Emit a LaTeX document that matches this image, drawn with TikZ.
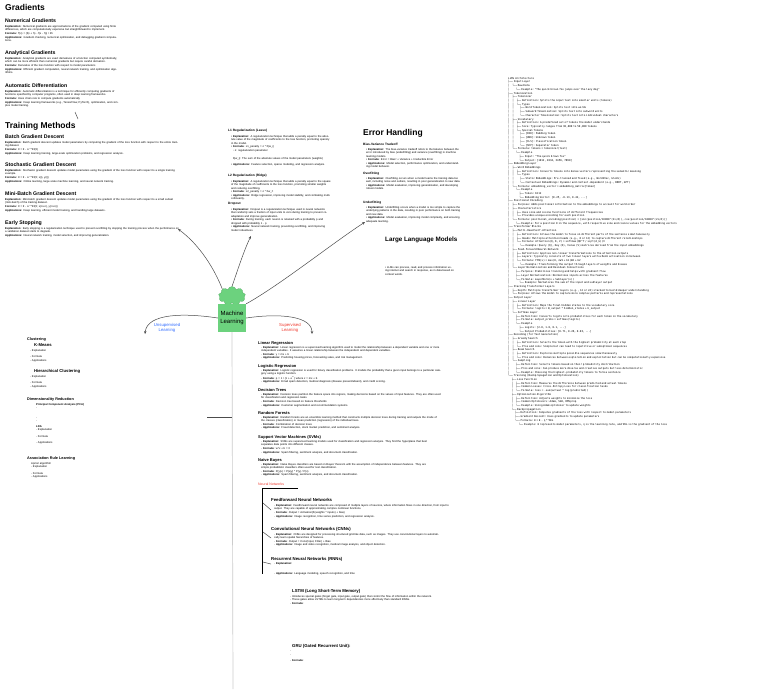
\documentclass[tikz,border=0pt]{standalone}
\usepackage{fontspec}
\setmainfont{Liberation Sans}
\newfontfamily\treefont{DejaVu Sans Mono}
\newfontfamily\symf{DejaVu Sans}
\usetikzlibrary{arrows.meta,shapes.symbols}
\definecolor{mlgreen}{HTML}{6CD27E}
\definecolor{sublue}{HTML}{2F6BFF}
\definecolor{supred}{HTML}{F03A2E}
\tikzset{
 big/.style={anchor=north west,inner sep=0,font=\fontsize{8.5}{10}\selectfont\bfseries},
 sub/.style={anchor=north west,inner sep=0,font=\fontsize{5.2}{6}\selectfont\bfseries},
 small/.style={anchor=north west,inner sep=0,font=\fontsize{3.2}{4}\selectfont\bfseries},
 body/.style={anchor=north west,inner sep=0,align=left,text width=#1,font=\fontsize{2.7}{3.5}\selectfont},
 body/.default=115pt,
 conn/.style={draw=black!70,line width=0.5pt,-{Stealth[length=3pt,width=2.5pt]}},
 plain/.style={draw=black!70,line width=0.5pt},
}
\newcommand\bl[1]{\textbf{#1}}
\newcommand\nab{{\symf ∇}}
\begin{document}
\begin{tikzpicture}[x=1pt,y=-1pt]
\fill[white] (0,0) rectangle (768,689);
\useasboundingbox (0,0) rectangle (768,689);

\node[big] (grad) at (5,4) {Gradients};
\node[sub] (numg) at (5,19) {Numerical Gradients};
\node[body] (numgb) at (5,25) {\bl{Explanation:} Numerical gradients are approximations of the gradient computed using finite differences, which are computationally expensive but straightforward to implement.\\[0.6pt]\bl{Formula:} f'(x) ≈ (f(x + h) - f(x - h)) / 2h\\\bl{Applications:} Gradient checking, numerical optimization, and debugging gradient computations.};
\node[sub] (anag) at (5,51) {Analytical Gradients};
\node[body] (anagb) at (5,57) {\bl{Explanation:} Analytical gradients are exact derivatives of a function computed symbolically, which can be more efficient than numerical gradients but require careful derivation.\\[0.6pt]\bl{Formula:} Derivative of the loss function with respect to model parameters\\\bl{Applications:} Efficient gradient computation, neural network training, and optimization algorithms.};
\node[sub] (autod) at (5,84) {Automatic Differentiation};
\node[body] (autodb) at (5,90) {\bl{Explanation:} Automatic differentiation is a technique for efficiently computing gradients of functions specified by computer programs, often used in deep learning frameworks.\\[0.6pt]\bl{Formula:} Uses chain rule to compute gradients automatically\\\bl{Applications:} Deep learning frameworks (e.g., TensorFlow, PyTorch), optimization, and complex model training.};
\coordinate (g1) at (75,112);
\coordinate (g2) at (78,119);
\draw[plain] (g1) -- (g2);

\node[big] (train) at (5,122) {Training Methods};
\node[sub] (bgd) at (5,135) {Batch Gradient Descent};
\node[body=175pt] (bgdb) at (5,141) {\bl{Explanation:} Batch gradient descent updates model parameters by computing the gradient of the loss function with respect to the entire training dataset.\\\bl{Formula:} θ = θ - α * \nab J(θ)\\[0.6pt]\bl{Applications:} Deep learning training, large-scale optimization problems, and regression analysis.};
\node[sub] (sgd) at (5,163) {Stochastic Gradient Descent};
\node[body=175pt] (sgdb) at (5,169) {\bl{Explanation:} Stochastic gradient descent updates model parameters using the gradient of the loss function with respect to a single training example.\\\bl{Formula:} θ = θ - α * \nab J(θ; x(i), y(i))\\[0.6pt]\bl{Applications:} Online learning, large-scale machine learning, and neural network training.};
\node[sub] (mbgd) at (5,192) {Mini-Batch Gradient Descent};
\node[body=175pt] (mbgdb) at (5,198) {\bl{Explanation:} Mini-batch gradient descent updates model parameters using the gradient of the loss function with respect to a small subset (mini-batch) of the training dataset.\\\bl{Formula:} θ = θ - α * \nab J(θ; x(i:i+n), y(i:i+n))\\[0.6pt]\bl{Applications:} Deep learning, efficient model training, and handling large datasets.};
\node[sub] (es) at (5,221) {Early Stopping};
\node[body=175pt] (esb) at (5,227) {\bl{Explanation:} Early stopping is a regularization technique used to prevent overfitting by stopping the training process when the performance on a validation dataset starts to degrade.\\[0.6pt]\bl{Applications:} Neural network training, model selection, and improving generalization.};

\node[small] (l1) at (228,129) {L1 Regularization (Lasso)};
\node[body=100pt] (l1b) at (231,135) {• \bl{Explanation:} A regularization technique that adds a penalty equal to the absolute value of the magnitude of coefficients to the loss function, promoting sparsity in the model.\\• \bl{Formula:} L1\_penalty = λ * Σ|w\_i|\\~~◦ λ: regularization parameter\\[5pt]~~Σ|w\_i|: The sum of the absolute values of the model parameters (weights)\\[2pt]• \bl{Applications:} Feature selection, sparse modeling, and regression analysis.};
\node[small] (l2) at (228,174) {L2 Regularization (Ridge)};
\node[body=100pt] (l2b) at (231,180) {• \bl{Explanation:} A regularization technique that adds a penalty equal to the square of the magnitude of coefficients to the loss function, promoting smaller weights and reducing overfitting.\\• \bl{Formula:} L2\_penalty = λ * Σw\_i²\\• \bl{Applications:} Ridge regression, improving model stability, and combating multicollinearity.};
\node[small] (drop) at (228,202) {Dropout};
\node[body=100pt] (dropb) at (231,208) {• \bl{Explanation:} Dropout is a regularization technique used in neural networks that randomly sets a fraction of input units to zero during training to prevent co-adaptation and improve generalization.\\• \bl{Formula:} During training, each neuron is retained with a probability p and dropped with probability 1 - p\\• \bl{Applications:} Neural network training, preventing overfitting, and improving model robustness.};

\node[big] (err) at (363,129) {Error Handling};
\node[small] (bv) at (363,143) {Bias-Variance Tradeoff};
\node[body=95pt] (bvb) at (366,148) {• \bl{Explanation:} The bias-variance tradeoff refers to the balance between the error introduced by bias (underfitting) and variance (overfitting) in machine learning models.\\• \bl{Formula:} Error = Bias² + Variance + Irreducible Error\\• \bl{Applications:} Model selection, performance optimization, and understanding model behavior.};
\node[small] (ovf) at (363,172) {Overfitting};
\node[body=95pt] (ovfb) at (366,177) {• \bl{Explanation:} Overfitting occurs when a model learns the training data too well, including noise and outliers, resulting in poor generalization to new data.\\• \bl{Applications:} Model evaluation, improving generalization, and developing robust models.};
\node[small] (unf) at (363,201) {Underfitting};
\node[body=95pt] (unfb) at (366,206) {• \bl{Explanation:} Underfitting occurs when a model is too simple to capture the underlying patterns in the data, resulting in poor performance on both training and new data.\\• \bl{Applications:} Model evaluation, improving model complexity, and ensuring adequate learning.};

\node[anchor=north west,inner sep=0,font=\fontsize{6.3}{7}\selectfont\bfseries] (llm) at (385,237) {Large Language Models};
\node[body=70pt] (llmb) at (385,266) {• LLMs can process, read, and process information using internet and search in response, as in data based on context words.};

\node[anchor=north west,inner sep=0,align=left,text width=258pt,font=\treefont\fontsize{2.6}{3.72}\selectfont] (tree) at (508,77) {%
LLMs Architecture\\
├──~Input~Layer\\
│~~~└──~Raw~Data\\
│~~~~~~~└──~Example:~"The~quick~brown~fox~jumps~over~the~lazy~dog"\\
├──~Tokenization\\
│~~~├──~Tokenizer\\
│~~~│~~~├──~Definition:~Splits~the~input~text~into~smaller~units~(tokens)\\
│~~~│~~~└──~Types\\
│~~~│~~~~~~~├──~Word~Tokenization:~Splits~text~into~words\\
│~~~│~~~~~~~├──~Subword~Tokenization:~Splits~text~into~subword~units\\
│~~~│~~~~~~~└──~Character~Tokenization:~Splits~text~into~individual~characters\\
│~~~├──~Vocabulary\\
│~~~│~~~├──~Definition:~A~predefined~set~of~tokens~the~model~understands\\
│~~~│~~~├──~Size:~Typically~ranges~from~30,000~to~50,000~tokens\\
│~~~│~~~└──~Special~Tokens\\
│~~~│~~~~~~~├──~[PAD]:~Padding~token\\
│~~~│~~~~~~~├──~[UNK]:~Unknown~token\\
│~~~│~~~~~~~├──~[CLS]:~Classification~token\\
│~~~│~~~~~~~└──~[SEP]:~Separator~token\\
│~~~└──~Formula:~tokens~=~tokenizer(text)\\
│~~~~~~~└──~Example\\
│~~~~~~~~~~~├──~Input:~"The~quick~brown~fox"\\
│~~~~~~~~~~~└──~Output:~[1012,~2034,~3456,~7890]\\
├──~Embedding~Layer\\
│~~~├──~Word~Embeddings\\
│~~~│~~~├──~Definition:~Converts~tokens~into~dense~vectors~representing~the~semantic~meaning\\
│~~~│~~~└──~Types\\
│~~~│~~~~~~~├──~Static~Embeddings:~Pre-trained~and~fixed~(e.g.,~Word2Vec,~GloVe)\\
│~~~│~~~~~~~└──~Contextual~Embeddings:~Dynamic~and~context-dependent~(e.g.,~BERT,~GPT)\\
│~~~└──~Formula:~embedding\_vector~=~embedding\_matrix[token]\\
│~~~~~~~└──~Example\\
│~~~~~~~~~~~├──~Token:~1012\\
│~~~~~~~~~~~└──~Embedding~Vector:~[0.25,~-0.13,~0.42,~...]\\
├──~Positional~Encoding\\
│~~~├──~Purpose:~Adds~positional~information~to~the~embeddings~to~account~for~word~order\\
│~~~├──~Characteristics\\
│~~~│~~~├──~Uses~sine~and~cosine~functions~of~different~frequencies\\
│~~~│~~~└──~Provides~unique~encoding~for~each~position\\
│~~~└──~Formula:~positional\_encoding(position)~=~[sin(position/10000\^{}(2i/d)),~cos(position/10000\^{}(2i/d))]\\
│~~~~~~~└──~Example:~For~a~position~0~in~the~sequence,~with~respective~sine~and~cosine~values~for~the~embedding~vectors\\
├──~Transformer~Blocks\\
│~~~├──~Multi-Head~Self-Attention\\
│~~~│~~~├──~Definition:~Allows~the~model~to~focus~on~different~parts~of~the~sentence~simultaneously\\
│~~~│~~~├──~Heads:~Multiple~attention~heads~(e.g.,~8~or~12)~to~capture~different~relationships\\
│~~~│~~~└──~Formula:~Attention(Q,~K,~V)~=~softmax(QK\^{}T~/~sqrt(d\_k))V\\
│~~~│~~~~~~~└──~Example:~Query~(Q),~Key~(K),~Value~(V)~matrices~derived~from~the~input~embeddings\\
│~~~├──~Feed-Forward~Neural~Network\\
│~~~│~~~├──~Definition:~Applies~non-linear~transformations~to~the~attention~outputs\\
│~~~│~~~├──~Layers:~Typically~consists~of~two~linear~layers~with~a~ReLU~activation~in~between\\
│~~~│~~~└──~Formula:~FFN(x)~=~max(0,~xW1~+~b1)W2~+~b2\\
│~~~│~~~~~~~└──~Example:~Transforming~the~output~through~layers~of~weights~and~biases\\
│~~~└──~Layer~Normalization~and~Residual~Connections\\
│~~~~~~~├──~Purpose:~Stabilizes~training~and~helps~with~gradient~flow\\
│~~~~~~~├──~Layer~Normalization:~Normalizes~inputs~across~the~features\\
│~~~~~~~└──~Formula:~LayerNorm(x~+~Sublayer(x))\\
│~~~~~~~~~~~└──~Example:~Normalizes~the~sum~of~the~input~and~sublayer~output\\
├──~Stacking~Transformer~Layers\\
│~~~├──~Depth:~Multiple~transformer~layers~(e.g.,~12~or~24)~stacked~to~build~deeper~understanding\\
│~~~└──~Purpose:~Allows~the~model~to~capture~more~complex~patterns~and~representations\\
├──~Output~Layer\\
│~~~├──~Linear~Layer\\
│~~~│~~~├──~Definition:~Maps~the~final~hidden~states~to~the~vocabulary~size\\
│~~~│~~~└──~Formula:~logits~=~W\_output~*~hidden\_states~+~b\_output\\
│~~~└──~Softmax~Layer\\
│~~~~~~~├──~Definition:~Converts~logits~into~probabilities~for~each~token~in~the~vocabulary\\
│~~~~~~~├──~Formula:~output\_probs~=~softmax(logits)\\
│~~~~~~~└──~Example\\
│~~~~~~~~~~~├──~Logits:~[2.0,~1.0,~0.1,~...]\\
│~~~~~~~~~~~└──~Output~Probabilities:~[0.71,~0.26,~0.03,~...]\\
├──~Decoding~(for~Text~Generation)\\
│~~~├──~Greedy~Search\\
│~~~│~~~├──~Definition:~Selects~the~token~with~the~highest~probability~at~each~step\\
│~~~│~~~└──~Pros~and~cons:~Simple~but~can~lead~to~repetitive~or~suboptimal~sequences\\
│~~~├──~Beam~Search\\
│~~~│~~~├──~Definition:~Explores~multiple~possible~sequences~simultaneously\\
│~~~│~~~└──~Pros~and~cons:~Balances~between~exploration~and~exploitation~but~can~be~computationally~expensive\\
│~~~└──~Sampling\\
│~~~~~~~├──~Definition:~Selects~tokens~based~on~their~probability~distribution\\
│~~~~~~~├──~Pros~and~cons:~Can~produce~more~diverse~and~creative~outputs~but~less~deterministic\\
│~~~~~~~└──~Example:~Choosing~the~highest-probability~tokens~to~form~a~sentence\\
└──~Training~(Backpropagation~and~Optimization)\\
~~~~├──~Loss~Function\\
~~~~│~~~├──~Definition:~Measures~the~difference~between~predicted~and~actual~tokens\\
~~~~│~~~├──~Common~Losses:~Cross-Entropy~Loss~for~classification~tasks\\
~~~~│~~~└──~Formula:~loss~=~-sum(actual~*~log(predicted))\\
~~~~├──~Optimization~Algorithm\\
~~~~│~~~├──~Definition:~Adjusts~weights~to~minimize~the~loss\\
~~~~│~~~├──~Common~Optimizers:~Adam,~SGD,~RMSprop\\
~~~~│~~~└──~Example:~Using~Adam~optimizer~to~update~weights\\
~~~~└──~Backpropagation\\
~~~~~~~~├──~Definition:~Computes~gradients~of~the~loss~with~respect~to~model~parameters\\
~~~~~~~~├──~Gradient~Descent:~Uses~gradients~to~update~parameters\\
~~~~~~~~└──~Formula:~θ~=~θ~-~η~*~∇θL\\
~~~~~~~~~~~~└──~Example:~θ~represents~model~parameters,~η~is~the~learning~rate,~and~∇θL~is~the~gradient~of~the~loss};

\node[cloud,cloud puffs=9,fill=mlgreen,draw=mlgreen!80!black,line width=0.2pt,minimum width=27pt,minimum height=19pt,inner sep=0] (brain) at (232,296) {};
\node[fill=mlgreen,minimum width=28pt,minimum height=28pt,inner sep=0,align=center,text width=28pt,font=\fontsize{6}{7.2}\selectfont] (ml) at (232,318) {Machine\\Learning};

\coordinate (esend) at (178,229);
\coordinate (dropend) at (251,236);
\coordinate (unfend) at (365,222);
\draw[conn] (brain.north west) .. controls (215,270) and (200,245) .. (esend);
\draw[conn] (brain.north) .. controls (236,275) and (244,250) .. (dropend);
\draw[conn] (ml.north east) .. controls (280,285) and (330,245) .. (unfend);

\node[inner sep=0,align=center,text width=40pt,font=\fontsize{4.3}{5.6}\selectfont,text=sublue] (unsup) at (167,328) {Unsupervised\\Learning};
\node[inner sep=0,align=center,text width=40pt,font=\fontsize{4.3}{5.6}\selectfont,text=supred] (sup) at (290,328) {Supervised\\Learning};
\coordinate (ul) at (145,334);
\coordinate (sl) at (312,334);
\draw[conn] (ml.west) .. controls (185,313) and (147,313) .. (ul);
\draw[conn] (ml.east) .. controls (280,313) and (312,316) .. (sl);
\coordinate (vend) at (233,689);
\draw[draw=black!20,line width=0.7pt] (ml.south) -- (vend);
\coordinate (hl1) at (207,417);
\coordinate (hl2) at (232,417);
\draw[plain] (hl1) -- (hl2);

\node[small,font=\fontsize{3.8}{4}\selectfont\bfseries] (clu) at (27,338) {Clustering};
\node[small,font=\fontsize{4.2}{4}\selectfont\bfseries] (km) at (34,343) {K-Means};
\node[body=60pt] (kmb) at (30,349) {- Explanation\\[3pt]- Formula\\- Applications};
\node[small,font=\fontsize{4.2}{4}\selectfont\bfseries] (hc) at (34,369) {Hierarchical Clustering};
\node[body=60pt] (hcb) at (30,375) {- Explanation\\[3pt]- Formula\\- Applications};
\node[small,font=\fontsize{3.8}{4}\selectfont\bfseries] (dr) at (27,398) {Dimensionality Reduction};
\node[body=80pt] (pca) at (36,403) {\bl{Principal Component Analysis (PCA)}\\-\\[6pt]-\\-};
\node[body=60pt] (lda) at (36,425) {\bl{LDA}\\- Explanation\\[3pt]- Formula\\[3pt]- Applications};
\node[small,font=\fontsize{3.8}{4}\selectfont\bfseries] (arl) at (27,457) {Association Rule Learning};
\node[body=60pt] (apr) at (31,462) {Apriori algorithm\\- Explanation\\[3pt]- Formula\\- Applications};

\node[small,font=\fontsize{4}{4.5}\selectfont\bfseries] (lr) at (258,341) {Linear Regression};
\node[body=180pt] (lrb) at (261,346) {- \bl{Explanation:} Linear regression is a supervised learning algorithm used to model the relationship between a dependent variable and one or more independent variables. It assumes a linear relationship between the independent and dependent variables.\\- \bl{Formula:} y = mx + b\\- \bl{Applications:} Predicting housing prices, forecasting sales, and risk management.};
\node[small,font=\fontsize{4}{4.5}\selectfont\bfseries] (logr) at (258,364) {Logistic Regression};
\node[body=180pt] (logrb) at (261,369) {- \bl{Explanation:} Logistic regression is used for binary classification problems. It models the probability that a given input belongs to a particular category using a logistic function.\\- \bl{Formula:} p = 1 / (1 + e\textsuperscript{-z}) where z = mx + b\\- \bl{Applications:} Email spam detection, medical diagnosis (disease present/absent), and credit scoring.};
\node[small,font=\fontsize{4}{4.5}\selectfont\bfseries] (dt) at (258,388) {Decision Trees};
\node[body=180pt] (dtb) at (261,393) {- \bl{Explanation:} Decision trees partition the feature space into regions, making decisions based on the values of input features. They are often used for classification and regression tasks.\\- \bl{Formula:} Decision tree based on feature thresholds\\[0.6pt]- \bl{Applications:} Customer segmentation and recommendation systems.};
\node[small,font=\fontsize{4}{4.5}\selectfont\bfseries] (rf) at (258,411) {Random Forests};
\node[body=180pt] (rfb) at (261,416) {- \bl{Explanation:} Random forests are an ensemble learning method that constructs multiple decision trees during training and outputs the mode of the classes (classification) or mean prediction (regression) of the individual trees.\\- \bl{Formula:} Combination of decision trees\\- \bl{Applications:} Fraud detection, stock market prediction, and sentiment analysis.};
\node[small,font=\fontsize{4}{4.5}\selectfont\bfseries] (svm) at (258,435) {Support Vector Machines (SVMs)};
\node[body=170pt] (svmb) at (261,440) {- \bl{Explanation:} SVMs are supervised learning models used for classification and regression analysis. They find the hyperplane that best separates data points into different classes.\\- \bl{Formula:} wᵀx + b = 0\\[0.6pt]- \bl{Applications:} Spam filtering, sentiment analysis, and document classification.};
\node[small,font=\fontsize{4}{4.5}\selectfont\bfseries] (nb) at (258,458) {Naive Bayes};
\node[body=170pt] (nbb) at (261,463) {- \bl{Explanation:} Naive Bayes classifiers are based on Bayes' theorem with the assumption of independence between features. They are simple probabilistic classifiers often used for text classification.\\- \bl{Formula:} P(y|x) = P(x|y) * P(y) / P(x)\\- \bl{Applications:} Spam filtering, sentiment analysis, and document classification.};

\node[anchor=north west,inner sep=0,font=\fontsize{3.5}{4}\selectfont,text=supred] (nn) at (258,483) {Neural Networks};
\coordinate (nnr) at (298,488);
\coordinate (nnc) at (262,488);
\coordinate (nnb) at (262,574);
\draw[line width=0.6pt] (nnr) -- (nnc) -- (nnb);
\node[small,font=\fontsize{4.3}{5}\selectfont\bfseries] (ffn) at (271,498) {Feedforward Neural Networks};
\node[body=175pt] (ffnb) at (274,504) {- \bl{Explanation:} Feedforward neural networks are composed of multiple layers of neurons, where information flows in one direction, from input to output. They are capable of approximating complex nonlinear functions.\\- \bl{Formula:} Output = Activation(Σ(weights * inputs) + bias)\\[0.6pt]- \bl{Applications:} Image recognition, time series prediction, and regression analysis.};
\node[small,font=\fontsize{4.3}{5}\selectfont\bfseries] (cnn) at (271,527) {Convolutional Neural Networks (CNNs)};
\node[body=165pt] (cnnb) at (274,533) {- \bl{Explanation:} CNNs are designed for processing structured grid-like data, such as images. They use convolutional layers to automatically learn spatial hierarchies of features.\\- \bl{Formula:} Output = Conv(Input, Filter) + Bias\\- \bl{Applications:} Image and video recognition, medical image analysis, and object detection.};
\node[small,font=\fontsize{4.3}{5}\selectfont\bfseries] (rnn) at (271,557) {Recurrent Neural Networks (RNNs)};
\node[body=165pt] (rnnb) at (274,562) {- \bl{Explanation:}\\[7pt]- \bl{Applications:} Language modeling, speech recognition, and time};
\coordinate (t1a) at (263,503); \coordinate (t1b) at (271,510);
\coordinate (t2a) at (263,532); \coordinate (t2b) at (271,538);
\coordinate (t3a) at (263,562); \coordinate (t3b) at (271,564);
\draw[plain] (t1a) -- (t1b);
\draw[plain] (t2a) -- (t2b);
\draw[plain] (t3a) -- (t3b);
\node[small,font=\fontsize{4.3}{5}\selectfont\bfseries] (lstm) at (292,589) {LSTM (Long Short-Term Memory)};
\node[body=155pt] (lstmb) at (290,595) {- Introduces special gates (forget gate, input gate, output gate) that control the flow of information within the network.\\- These gates allow LSTMs to learn long-term dependencies more effectively than standard RNNs.\\- \bl{Formula:}};
\node[small,font=\fontsize{4.3}{5}\selectfont\bfseries] (gru) at (292,644) {GRU (Gated Recurrent Unit):};
\node[body=60pt] (grub) at (290,650) {-\\[1pt]-\\[2pt]- \bl{Formula:}};
\end{tikzpicture}
\end{document}
